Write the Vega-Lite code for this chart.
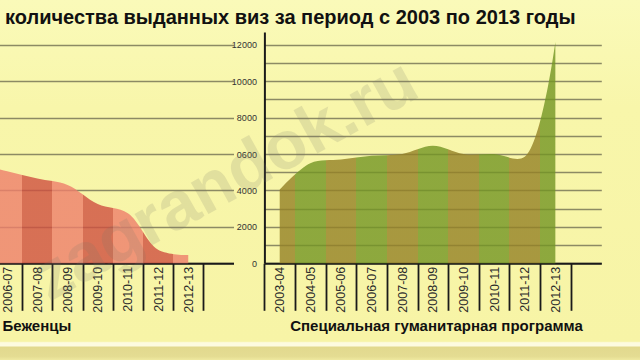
{
  "$schema": "https://vega.github.io/schema/vega-lite/v6.json",
  "width": 640,
  "height": 360,
  "autosize": {"type": "none"},
  "padding": 0,
  "background": "#f8f6aa",
  "config": {
    "font": "Liberation Sans",
    "view": {
      "stroke": null,
      "fill": {
        "gradient": "linear", "x1": 0, "y1": 0, "x2": 0, "y2": 1,
        "stops": [
          {"offset": 0, "color": "#fafab9"},
          {"offset": 0.3, "color": "#f8f6aa"},
          {"offset": 0.948, "color": "#f7f4a6"},
          {"offset": 0.952, "color": "#fdfbe0"},
          {"offset": 0.96, "color": "#fdfbe0"},
          {"offset": 0.965, "color": "#e2d98e"},
          {"offset": 0.99, "color": "#e4dc92"},
          {"offset": 1, "color": "#efe9a0"}
        ]
      }
    }
  },
  "title": {
    "text": "количества выданных виз за период с 2003 по 2013 годы",
    "anchor": "start",
    "frame": "group",
    "dx": 5,
    "offset": -44,
    "baseline": "alphabetic",
    "fontSize": 20,
    "fontWeight": "bold",
    "font": "Liberation Sans",
    "color": "#111111"
  },
  "datasets": {
    "refugees": [
      {"period": "2005-06", "visas": 5500},
      {"period": "2006-07", "visas": 5050},
      {"period": "2007-08", "visas": 4650},
      {"period": "2008-09", "visas": 4300},
      {"period": "2009-10", "visas": 3250},
      {"period": "2010-11", "visas": 2750},
      {"period": "2011-12", "visas": 750},
      {"period": "2012-13", "visas": 450}
    ],
    "humanitarian": [
      {"period": "2003-04", "visas": 4050},
      {"period": "2004-05", "visas": 5500},
      {"period": "2005-06", "visas": 5700},
      {"period": "2006-07", "visas": 5900},
      {"period": "2007-08", "visas": 6000},
      {"period": "2008-09", "visas": 6450},
      {"period": "2009-10", "visas": 6000},
      {"period": "2010-11", "visas": 6000},
      {"period": "2011-12", "visas": 5850},
      {"period": "2012-13", "visas": 12150}
    ],
    "watermark": [{"text": "zagrandok.ru"}]
  },
  "layer": [
    {
      "layer": [
        {
          "data": {"name": "refugees"},
          "mark": {
            "type": "area",
            "interpolate": "catmull-rom",
            "opacity": 0.8,
            "color": {
              "gradient": "linear", "x1": 0, "y1": 0, "x2": 1, "y2": 0,
              "stops": [
                {"offset": 0, "color": "#cf4f40"},
                {"offset": 0.0714, "color": "#cf4f40"},
                {"offset": 0.0714, "color": "#ee7e6b"},
                {"offset": 0.2143, "color": "#ee7e6b"},
                {"offset": 0.2143, "color": "#cf4f40"},
                {"offset": 0.3571, "color": "#cf4f40"},
                {"offset": 0.3571, "color": "#ee7e6b"},
                {"offset": 0.5, "color": "#ee7e6b"},
                {"offset": 0.5, "color": "#cf4f40"},
                {"offset": 0.6429, "color": "#cf4f40"},
                {"offset": 0.6429, "color": "#ee7e6b"},
                {"offset": 0.7857, "color": "#ee7e6b"},
                {"offset": 0.7857, "color": "#cf4f40"},
                {"offset": 0.9286, "color": "#cf4f40"},
                {"offset": 0.9286, "color": "#ee7e6b"},
                {"offset": 1, "color": "#ee7e6b"}
              ]
            }
          },
          "encoding": {
            "x": {
              "field": "period", "type": "ordinal",
              "scale": {
                "domain": ["2003-04", "2004-05", "2005-06", "2006-07", "2007-08", "2008-09", "2009-10", "2010-11", "2011-12", "2012-13"],
                "range": [-98.4, 233.5], "paddingInner": 0, "paddingOuter": 0.5, "align": 0, "round": false
              },
              "axis": {
                "orient": "bottom", "offset": -96.7,
                "values": ["2006-07", "2007-08", "2008-09", "2009-10", "2010-11", "2011-12", "2012-13"],
                "domainColor": "#1a1a1a", "domainWidth": 2,
                "ticks": true, "tickBand": "extent", "tickSize": 47, "tickColor": "#1a1a1a", "tickWidth": 1.8,
                "labelAngle": 270, "labelAlign": "right", "labelBaseline": "middle", "labelPadding": -44,
                "labelFontSize": 12.5, "labelColor": "#2a2a2a", "labelOverlap": false,
                "title": "Беженцы", "titleX": 2, "titleAlign": "left", "titleAnchor": "start",
                "titleFontSize": 15, "titleFontWeight": "bold", "titleColor": "#111111", "titlePadding": 6,
                "grid": false
              }
            },
            "y": {
              "field": "visas", "type": "quantitative",
              "scale": {"domain": [0, 12700], "range": [263.3, 32], "nice": false},
              "axis": {
                "orient": "left", "values": [0, 1000, 2000, 3000, 4000, 5000, 6000, 7000, 8000, 9000, 10000, 11000, 12000],
                "labels": false, "ticks": false, "domain": false, "grid": true,
                "gridColor": "#8c8a64", "gridWidth": 1.6, "title": null
              }
            }
          }
        },
        {
          "data": {"name": "watermark"},
          "mark": {"type": "text", "angle": 331, "fontSize": 68, "fontWeight": "bold", "font": "Liberation Sans", "color": "#77776a", "opacity": 0.17, "align": "center", "baseline": "middle"},
          "encoding": {
            "x": {"datum": "2012-13", "bandPosition": 1.75},
            "y": {"datum": 4500},
            "text": {"field": "text"}
          }
        }
      ]
    },
    {
      "data": {"name": "humanitarian"},
      "mark": {
        "type": "area",
        "interpolate": "catmull-rom",
        "opacity": 0.8,
        "color": {
          "gradient": "linear", "x1": 0, "y1": 0, "x2": 1, "y2": 0,
          "stops": [
            {"offset": 0, "color": "#948125"},
            {"offset": 0.0556, "color": "#948125"},
            {"offset": 0.0556, "color": "#739523"},
            {"offset": 0.1667, "color": "#739523"},
            {"offset": 0.1667, "color": "#948125"},
            {"offset": 0.2778, "color": "#948125"},
            {"offset": 0.2778, "color": "#739523"},
            {"offset": 0.3889, "color": "#739523"},
            {"offset": 0.3889, "color": "#948125"},
            {"offset": 0.5, "color": "#948125"},
            {"offset": 0.5, "color": "#739523"},
            {"offset": 0.6111, "color": "#739523"},
            {"offset": 0.6111, "color": "#948125"},
            {"offset": 0.7222, "color": "#948125"},
            {"offset": 0.7222, "color": "#739523"},
            {"offset": 0.8333, "color": "#739523"},
            {"offset": 0.8333, "color": "#948125"},
            {"offset": 0.9444, "color": "#948125"},
            {"offset": 0.9444, "color": "#739523"},
            {"offset": 1, "color": "#739523"}
          ]
        }
      },
      "encoding": {
        "x": {
          "field": "period", "type": "ordinal",
          "scale": {
            "domain": ["2003-04", "2004-05", "2005-06", "2006-07", "2007-08", "2008-09", "2009-10", "2010-11", "2011-12", "2012-13"],
            "range": [264.4, 601.3], "paddingInner": 0, "paddingOuter": 0.5, "align": 0, "round": false
          },
          "axis": {
            "orient": "bottom", "offset": -96.7,
            "domainColor": "#1a1a1a", "domainWidth": 2,
            "ticks": true, "tickBand": "extent", "tickSize": 47, "tickColor": "#1a1a1a", "tickWidth": 1.8,
            "labelAngle": 270, "labelAlign": "right", "labelBaseline": "middle", "labelPadding": -44,
            "labelFontSize": 12.5, "labelColor": "#2a2a2a", "labelOverlap": false,
            "title": "Специальная  гуманитарная программа", "titleX": 436, "titleAlign": "center",
            "titleFontSize": 15, "titleFontWeight": "bold", "titleColor": "#111111", "titlePadding": 6,
            "grid": false
          }
        },
        "y": {
          "field": "visas", "type": "quantitative",
          "scale": {"domain": [0, 12700], "range": [263.3, 32], "nice": false},
          "axis": {
            "orient": "left", "offset": -264.4,
            "values": [0, 1000, 2000, 3000, 4000, 5000, 6000, 7000, 8000, 9000, 10000, 11000, 12000],
            "format": "d",
            "labelExpr": "datum.value == 6000 ? '0600' : (datum.value % 2000 == 0 ? datum.label : '')",
            "labelFontSize": 9, "labelColor": "#333333", "labelPadding": 8, "labelOverlap": false,
            "ticks": false, "domain": true, "domainColor": "#1a1a1a", "domainWidth": 2,
            "grid": true, "gridColor": "#8c8a64", "gridWidth": 1.6, "title": null
          }
        }
      }
    }
  ],
  "resolve": {
    "scale": {"x": "independent", "y": "independent"},
    "axis": {"x": "independent", "y": "independent"}
  }
}
